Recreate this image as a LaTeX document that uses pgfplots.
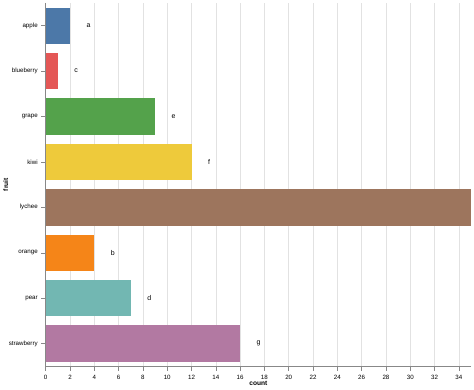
\documentclass[border=0pt]{standalone}
\usepackage{fontspec}
\setmainfont{Liberation Sans}
\usepackage{pgfplots}
\pgfplotsset{compat=1.18}
\usepackage{pgfplotstable}
\definecolor{capple}{HTML}{4C78A8}
\definecolor{cblue}{HTML}{E45756}
\definecolor{cgrape}{HTML}{54A24B}
\definecolor{ckiwi}{HTML}{EECA3B}
\definecolor{clychee}{HTML}{9D755D}
\definecolor{corange}{HTML}{F58518}
\definecolor{cpear}{HTML}{72B7B2}
\definecolor{cstraw}{HTML}{B279A2}
\definecolor{gridc}{HTML}{E2E2E2}
\definecolor{axisc}{HTML}{888888}
\pgfplotstableread{
y count label
0 2 a
1 1 c
2 9 e
3 12 f
5 4 b
6 7 d
7 16 g
}\labels
\begin{document}
\begin{tikzpicture}
\begin{axis}[
  scale only axis,
  width=426pt, height=364pt,
  xmin=0, xmax=35, ymin=-0.5, ymax=7.5,
  y dir=reverse,
  ytick={0,...,7},
  yticklabels={apple,blueberry,grape,kiwi,lychee,orange,pear,strawberry},
  xtick={0,2,...,34},
  axis x line*=bottom, axis y line*=left,
  axis line style={axisc, line width=0.5pt, -},
  tick style={axisc, line width=0.5pt},
  tick align=outside, major tick length=4.5pt,
  xmajorgrids, grid style={gridc, line width=0.6pt},
  /pgf/number format/assume math mode=true,
  tick label style={font=\fontsize{6.2}{7}\selectfont, black},
  xticklabel style={yshift=-0.5pt},
  xlabel={count}, ylabel={fruit},
  label style={font=\fontsize{6.6}{8}\selectfont\bfseries},
  x label style={at={(axis description cs:0.5,-0.047)}, anchor=center},
  y label style={at={(axis description cs:-0.094,0.5)}, anchor=center},
  every axis plot/.append style={xbar, bar shift=0pt, bar width=36.4pt, draw=none},
  clip=true,
]
\addplot[fill=capple] coordinates {(2,0)};
\addplot[fill=cblue] coordinates {(1,1)};
\addplot[fill=cgrape] coordinates {(9,2)};
\addplot[fill=ckiwi] coordinates {(12,3)};
\addplot[fill=clychee] coordinates {(35,4)};
\addplot[fill=corange] coordinates {(4,5)};
\addplot[fill=cpear] coordinates {(7,6)};
\addplot[fill=cstraw] coordinates {(16,7)};
\addplot[draw=none, fill=none, nodes near coords, point meta=explicit symbolic,
  every node near coord/.style={anchor=west, xshift=13pt, font=\fontsize{7}{8}\selectfont, black}]
  table[x=count, y=y, meta=label] {\labels};
\end{axis}
\path ([xshift=-45pt,yshift=-23pt]current axis.south west) rectangle ([xshift=3pt,yshift=3pt]current axis.north east);
\end{tikzpicture}
\end{document}
